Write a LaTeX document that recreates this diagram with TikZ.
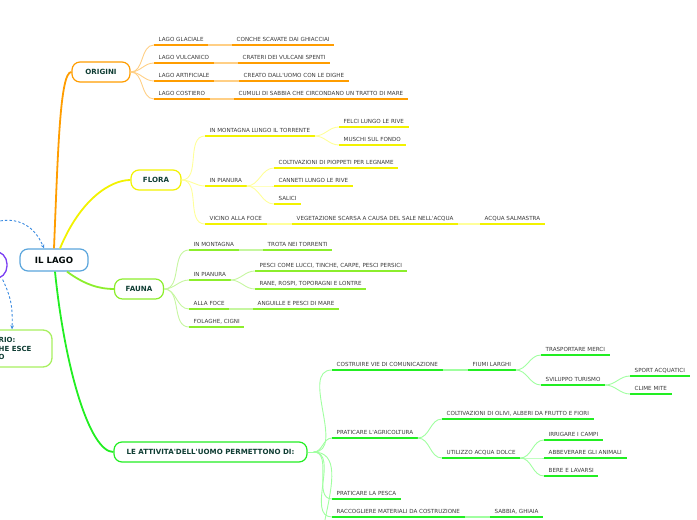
\documentclass[tikz,border=0pt]{standalone}
\usepackage{fontspec}
\setmainfont{DejaVu Sans}[Ligatures=TeXOff]
\usetikzlibrary{arrows.meta}
\definecolor{orgU}{HTML}{FF9D00}
\definecolor{orgL}{HTML}{FFCF85}
\definecolor{ylwU}{HTML}{F2F200}
\definecolor{ylwL}{HTML}{FFFF99}
\definecolor{fauU}{HTML}{8CEE2C}
\definecolor{fauL}{HTML}{C6F6A0}
\definecolor{grnU}{HTML}{22EE22}
\definecolor{grnL}{HTML}{A0FFA0}
\definecolor{lagoB}{HTML}{5AA5DC}
\definecolor{purB}{HTML}{7B3FF2}
\definecolor{dashB}{HTML}{3B8BE0}
\definecolor{blB}{HTML}{A8F060}
\definecolor{ttl}{HTML}{0F3D33}
\definecolor{lft}{HTML}{3A3A3A}
\tikzset{
  title/.style={draw, rounded corners=8pt, line width=1.2pt, fill=white,
    font=\fontsize{7.1}{8}\selectfont\bfseries, text=ttl, minimum height=20pt, inner sep=0pt},
  leaf/.style={anchor=south west, inner xsep=4.5pt, inner ysep=2.2pt, text depth=1pt,
    text height=4.2pt, font=\fontsize{5.6}{6}\selectfont, text=lft},
  ul/.style={leaf, append after command={(\tikzlastnode.south west) edge[draw=#1, line width=2pt] (\tikzlastnode.south east)}},
  lk/.style={draw=#1, line width=1.4pt},
  br/.style={draw=#1, line width=0.9pt},
  mainc/.style={draw=#1, line width=1.8pt},
  dsh/.style={draw=dashB, line width=0.9pt, dash pattern=on 2.5pt off 2pt, -{Stealth[length=4pt,width=3.5pt]}}
}
\begin{document}
\begin{tikzpicture}[x=1pt,y=-1pt]
\useasboundingbox (0,0) rectangle (697,520);

% left partial nodes
\node[draw=purB, line width=1.3pt, rounded corners=13pt, minimum width=47pt, minimum height=28pt, fill=white] (pur) at (-16.5,265) {};
\node[draw=blB, line width=1.3pt, rounded corners=9pt, minimum width=112pt, minimum height=37pt, fill=white] (bl) at (-4,348.5) {};
\node[anchor=west, align=left, inner sep=0pt, font=\fontsize{7}{8.7}\selectfont\bfseries, text=ttl] (bltext) at (-1.5,348.5) {RIO:\\HE ESCE\\O};

% main nodes
\node[title, draw=lagoB, minimum width=68pt, minimum height=22pt, font=\fontsize{8.6}{10}\selectfont\bfseries, text=black!85!ttl] (lago) at (54,260) {IL LAGO};
\node[title, draw=orgU, minimum width=58pt] (orig) at (101,72) {ORIGINI};
\node[title, draw=ylwU, minimum width=50pt] (flora) at (156,180) {FLORA};
\node[title, draw=fauU, minimum width=49pt] (fauna) at (139,289) {FAUNA};
\node[title, draw=grnU, minimum width=193pt] (att) at (210.5,452) {LE ATTIVITA'DELL'UOMO PERMETTONO DI:};

% main connectors
\draw[mainc=orgU] (lago.north) .. controls (58,150) and (60,72) .. (orig.west);
\draw[mainc=ylwU] ([xshift=6pt]lago.north) .. controls (80,200) and (110,180) .. (flora.west);
\draw[mainc=fauU] ([xshift=13pt]lago.south) .. controls (85,285) and (100,289) .. (fauna.west);
\draw[mainc=grnU] ([xshift=1pt]lago.south) .. controls (65,370) and (90,452) .. (att.west);

% dashed connectors
\coordinate (d1) at (-20,230);
\draw[dsh] (d1) .. controls (0,215) and (30,215) .. ([xshift=-10pt]lago.north);
\draw[dsh] ([xshift=-5pt]pur.south east) .. controls (10,295) and (13,305) .. ([xshift=16pt]bl.north);

% ORIGINI
\node[ul=orgU] (o1) at (154,45) {LAGO GLACIALE};
\node[ul=orgU] (o1c) at (232,45) {CONCHE SCAVATE DAI GHIACCIAI};
\node[ul=orgU] (o2) at (154,63) {LAGO VULCANICO};
\node[ul=orgU] (o2c) at (238,63) {CRATERI DEI VULCANI SPENTI};
\node[ul=orgU] (o3) at (154,81) {LAGO ARTIFICIALE};
\node[ul=orgU] (o3c) at (239,81) {CREATO DALL'UOMO CON LE DIGHE};
\node[ul=orgU] (o4) at (154,99) {LAGO COSTIERO};
\node[ul=orgU] (o4c) at (234,99) {CUMULI DI SABBIA CHE CIRCONDANO UN TRATTO DI MARE};
\foreach \c in {o1,o2,o3,o4}{\draw[br=orgL] (orig.east) to[out=0,in=180] (\c.south west);}
\foreach \c in {o1,o2,o3,o4}{\draw[lk=orgL] (\c.south east) -- (\c c.south west);}

% FLORA
\node[ul=ylwU] (f1) at (205,136) {IN MONTAGNA LUNGO IL TORRENTE};
\node[ul=ylwU] (f1a) at (339,127) {FELCI LUNGO LE RIVE};
\node[ul=ylwU] (f1b) at (339,145) {MUSCHI SUL FONDO};
\node[ul=ylwU] (f2) at (205,186) {IN PIANURA};
\node[ul=ylwU] (f2a) at (274,168) {COLTIVAZIONI DI PIOPPETI PER LEGNAME};
\node[ul=ylwU] (f2b) at (274,186) {CANNETI LUNGO LE RIVE};
\node[ul=ylwU] (f2c) at (274,204) {SALICI};
\node[ul=ylwU] (f3) at (205,224) {VICINO ALLA FOCE};
\node[ul=ylwU] (f3a) at (292,224) {VEGETAZIONE SCARSA A CAUSA DEL SALE NELL'ACQUA};
\node[ul=ylwU] (f3b) at (480,224) {ACQUA SALMASTRA};
\foreach \c in {f1,f2,f3}{\draw[br=ylwL] (flora.east) to[out=0,in=180] (\c.south west);}
\foreach \c in {f1a,f1b}{\draw[br=ylwL] (f1.south east) to[out=0,in=180] (\c.south west);}
\foreach \c in {f2a,f2b,f2c}{\draw[br=ylwL] (f2.south east) to[out=0,in=180] (\c.south west);}
\draw[lk=ylwL] (f3.south east) -- (f3a.south west);
\draw[lk=ylwL] (f3a.south east) -- (f3b.south west);

% FAUNA
\node[ul=fauU] (a1) at (189,250) {IN MONTAGNA};
\node[ul=fauU] (a1c) at (263,250) {TROTA NEI TORRENTI};
\node[ul=fauU] (a2) at (189,280) {IN PIANURA};
\node[ul=fauU] (a2a) at (255,271) {PESCI COME LUCCI, TINCHE, CARPE, PESCI PERSICI};
\node[ul=fauU] (a2b) at (255,289) {RANE, ROSPI, TOPORAGNI E LONTRE};
\node[ul=fauU] (a3) at (189,309) {ALLA FOCE};
\node[ul=fauU] (a3c) at (253,309) {ANGUILLE E PESCI DI MARE};
\node[ul=fauU] (a4) at (189,327) {FOLAGHE, CIGNI};
\foreach \c in {a1,a2,a3,a4}{\draw[br=fauL] (fauna.east) to[out=0,in=180] (\c.south west);}
\foreach \c in {a2a,a2b}{\draw[br=fauL] (a2.south east) to[out=0,in=180] (\c.south west);}
\draw[lk=fauL] (a1.south east) -- (a1c.south west);
\draw[lk=fauL] (a3.south east) -- (a3c.south west);

% ATTIVITA
\node[ul=grnU] (t1) at (332,370) {COSTRUIRE VIE DI COMUNICAZIONE};
\node[ul=grnU] (t1a) at (468,370) {FIUMI LARGHI};
\node[ul=grnU] (t1b) at (541,355) {TRASPORTARE MERCI};
\node[ul=grnU] (t1c) at (541,385) {SVILUPPO TURISMO};
\node[ul=grnU] (t1d) at (630,376) {SPORT ACQUATICI};
\node[ul=grnU] (t1e) at (630,394) {CLIME MITE};
\node[ul=grnU] (t2) at (332,438) {PRATICARE L'AGRICOLTURA};
\node[ul=grnU] (t2a) at (442,419) {COLTIVAZIONI DI OLIVI, ALBERI DA FRUTTO E FIORI};
\node[ul=grnU] (t2b) at (442,458) {UTILIZZO ACQUA DOLCE};
\node[ul=grnU] (t2c) at (544,440) {IRRIGARE I CAMPI};
\node[ul=grnU] (t2d) at (544,458) {ABBEVERARE GLI ANIMALI};
\node[ul=grnU] (t2e) at (544,476) {BERE E LAVARSI};
\node[ul=grnU] (t3) at (332,499) {PRATICARE LA PESCA};
\node[ul=grnU] (t4) at (332,517) {RACCOGLIERE MATERIALI DA COSTRUZIONE};
\node[ul=grnU] (t4a) at (490,517) {SABBIA, GHIAIA};
\coordinate (tend) at (338,580);
\foreach \c in {t1,t2,t3,t4}{\draw[br=grnL] ([xshift=6pt]att.east) to[out=0,in=180] (\c.south west);}
\draw[br=grnL] ([xshift=6pt]att.east) to[out=0,in=180] (tend);
\draw[br=grnL] (att.east) -- ([xshift=6pt]att.east);
\draw[lk=grnL] (t1.south east) -- (t1a.south west);
\foreach \c in {t1b,t1c}{\draw[br=grnL] (t1a.south east) to[out=0,in=180] (\c.south west);}
\foreach \c in {t1d,t1e}{\draw[br=grnL] (t1c.south east) to[out=0,in=180] (\c.south west);}
\foreach \c in {t2a,t2b}{\draw[br=grnL] (t2.south east) to[out=0,in=180] (\c.south west);}
\foreach \c in {t2c,t2d,t2e}{\draw[br=grnL] (t2b.south east) to[out=0,in=180] (\c.south west);}
\draw[lk=grnL] (t4.south east) -- (t4a.south west);
\end{tikzpicture}
\end{document}
